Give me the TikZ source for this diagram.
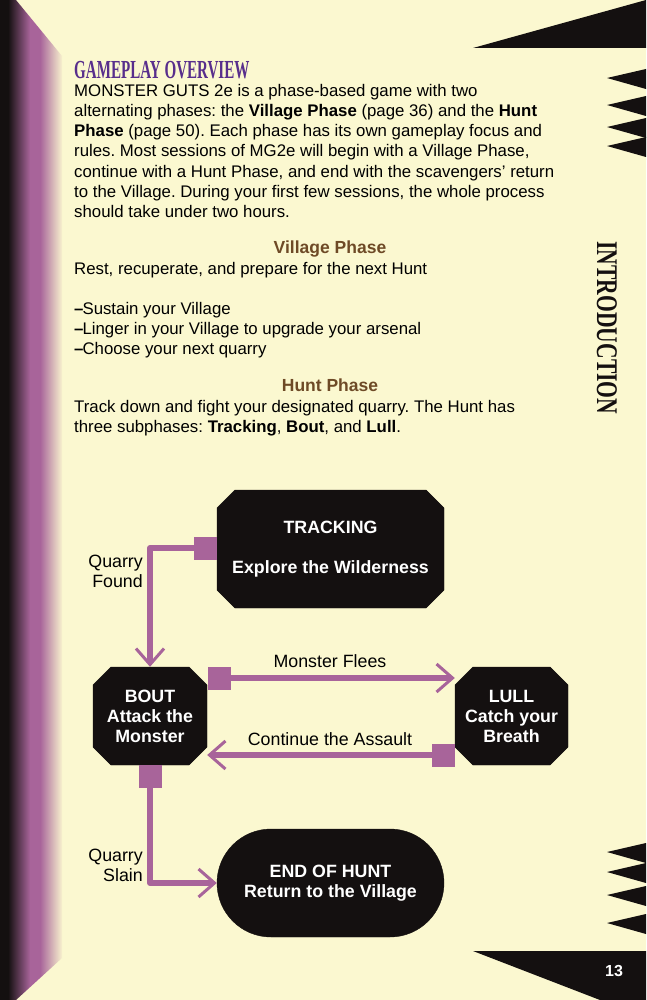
\documentclass[tikz,border=0pt]{standalone}
\usepackage{fontspec}
\setmainfont{Liberation Sans}
\newfontfamily\slabfont{Liberation Serif}
\usetikzlibrary{positioning,shapes.misc,arrows.meta}
\definecolor{cream}{RGB}{251,248,208}
\definecolor{mauve}{RGB}{168,100,154}
\definecolor{plum}{RGB}{88,46,140}
\definecolor{umber}{RGB}{110,74,38}
\definecolor{ink}{RGB}{20,16,16}
\newcommand{\slab}[2]{\scalebox{#1}[1]{\slabfont #2}}
\newcommand{\dashmark}{\textbf{--}\kern-1pt}
\frenchspacing
\begin{document}
\begin{tikzpicture}[x=1pt,y=-1pt,>={Straight Barb[length=16pt,width=28pt,line width=3pt]},
		body/.style={inner sep=0pt,anchor=north west,font=\fontsize{16.8}{20.2}\selectfont,align=left},
		head/.style={inner sep=0pt,anchor=base,text=umber,font=\bfseries\fontsize{17.5}{20}\selectfont},
		box/.style={chamfered rectangle,chamfered rectangle xsep=9pt,chamfered rectangle ysep=9pt,
			fill=ink,draw=ink,text=white,inner sep=0pt,
			font=\bfseries\fontsize{17.8}{20}\selectfont,align=center},
		stadium/.style={rounded rectangle,fill=ink,draw=ink,text=white,inner sep=0pt,
			font=\bfseries\fontsize{17.8}{20}\selectfont,align=center},
		tab/.style={rectangle,fill=mauve,inner sep=0pt,minimum size=23pt},
		flow/.style={draw=mauve,line width=6pt,line join=round},
		tag/.style={font=\fontsize{17.8}{19.5}\selectfont,inner sep=0pt}]
	% page
	\fill[cream] (0,0) rectangle (646,1000);
	\useasboundingbox (0,0) rectangle (646,1000);
	\begin{scope}
		\clip (0,0) -- (16,0) -- (62,56) -- (62,958) -- (16,1000) -- (0,1000) -- cycle;
		\fill[ink] (0,0) rectangle (8,1000);
		\shade[left color=ink,right color=mauve] (8,0) rectangle (30,1000);
		\fill[mauve] (30,0) rectangle (40,1000);
		\shade[left color=mauve,right color=cream] (40,0) rectangle (63,1000);
	\end{scope}
	\fill[ink] (473,48) -- (646,0) -- (646,48) -- cycle;
	\foreach \y in {78,105,127,146}
		\fill[ink] (607,\y) -- (646,\y-9) -- (646,\y+11) -- cycle;
	\foreach \y in {852,872,895,923}
		\fill[ink] (607,\y) -- (646,\y-9) -- (646,\y+11) -- cycle;
	\fill[ink] (473,951) -- (646,951) -- (646,1000) -- (600,1000) -- cycle;
	\node[text=white,font=\bfseries\fontsize{16}{16}\selectfont] (pageno) at (614,971) {13};
	\node[rotate=-90,text=ink,font=\bfseries\fontsize{30}{30}\selectfont] (chapter) at (607,328) {\slab{0.72}{INTRODUCTION}};

	% text
	\node[inner sep=0pt,anchor=base west,text=plum,font=\bfseries\fontsize{26}{26}\selectfont] (title) at (74,79) {\slab{0.58}{GAMEPLAY OVERVIEW}};
	\node[body] (intro) at (74,84) {MONSTER GUTS 2e is a phase-based game with two\\
		alternating phases: the \textbf{Village Phase} (page 36) and the \textbf{Hunt}\\
		\textbf{Phase} (page 50). Each phase has its own gameplay focus and\\
		rules. Most sessions of MG2e will begin with a Village Phase,\\
		continue with a Hunt Phase, and end with the scavengers’ return\\
		to the Village. During your first few sessions, the whole process\\
		should take under two hours.};
	\node[head] (village) at (330,254) {Village Phase};
	\node[body] (rest) at (74,262) {Rest, recuperate, and prepare for the next Hunt};
	\node[body] (list) at (74,302) {\dashmark Sustain your Village\\
		\dashmark Linger in your Village to upgrade your arsenal\\
		\dashmark Choose your next quarry};
	\node[head] (hunt) at (330,391) {Hunt Phase};
	\node[body] (track) at (74,400) {Track down and fight your designated quarry. The Hunt has\\
		three subphases: \textbf{Tracking}, \textbf{Bout}, and \textbf{Lull}.};

	% flow
	\node[box,minimum width=227pt,minimum height=118pt] (tracking) at (330.5,549) {TRACKING\\[20pt]Explore the Wilderness};
	\node[box,minimum width=114pt,minimum height=98pt] (bout) at (150,716) {BOUT\\Attack the\\Monster};
	\node[box,minimum width=113pt,minimum height=98pt] (lull) at (511.5,716) {LULL\\Catch your\\Breath};
	\node[stadium,minimum width=227pt,minimum height=108pt] (end) at (330.5,883) {END OF HUNT\\Return to the Village};

	\node[tab] (tabT) at (205,548) {};
	\node[tab] (tabB) at (219,678) {};
	\node[tab] (tabL) at (443,755) {};
	\node[tab] (tabS) at (150,776) {};
	\coordinate (cornerF) at (tabT -| bout);
	\coordinate (cornerS) at (end -| bout);

	\draw[flow,->] (tabT.center) -- (cornerF) -- (bout.north);
	\draw[flow,->] (tabB.center) -- (tabB -| lull.west);
	\draw[flow,->] (tabL.center) -- (tabL -| bout.east);
	\draw[flow,->] (tabS.center) -- (cornerS) -- (end.west);

	\node[tag,align=right,anchor=north east] (found) at (143,555) {Quarry\\Found};
	\node[tag,align=right,anchor=north east] (slain) at (143,849) {Quarry\\Slain};
	\node[tag] (flees) at (330,661) {Monster Flees};
	\node[tag] (assault) at (330,739) {Continue the Assault};
\end{tikzpicture}
\end{document}
